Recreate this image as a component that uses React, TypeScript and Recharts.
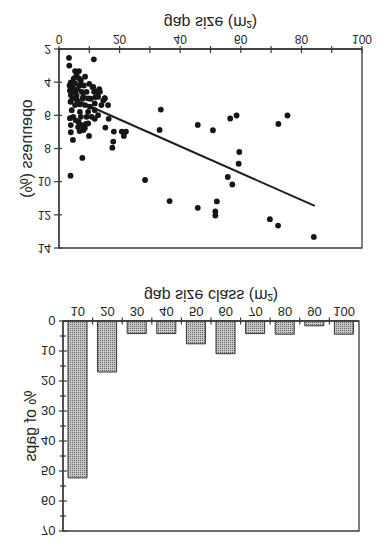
import React from 'react';
import {
  BarChart,
  Bar,
  XAxis,
  YAxis,
  ScatterChart,
  Scatter,
  ReferenceArea,
  ReferenceLine,
  Label,
} from 'recharts';

// ---------- bar chart data ----------
const gapClassLabels = ['10', '20', '30', '40', '50', '60', '70', '80', '90', '100'];
const gapClassPercent = [52.3, 17.0, 4.2, 4.2, 7.6, 10.9, 4.2, 4.4, 1.6, 4.4];
const barYTicks = [0, 5, 10, 15, 20, 25, 30, 35, 40, 45, 50, 55, 60, 65, 70];

// ---------- scatter data ----------
const gapSizes = [
  3.3, 3.4, 11.5, 5.3, 6.6, 8.6, 5.8, 4.9, 6.6, 3.9, 5.3, 6.9, 4.2, 5.5, 7.5, 9.1, 11.3, 11.6, 13.5, 3.9,
  5.8, 8.0, 9.6, 12.9, 15.1, 16.2, 14.0, 11.8, 10.2, 8.6, 6.9, 5.3, 3.8, 4.2, 6.9, 9.6, 11.8, 4.7, 7.2, 9.1,
  10.8, 12.9, 3.9, 7.5, 8.0, 9.6, 3.9, 4.6, 3.6, 3.8, 7.7, 17.9, 17.6, 18.1, 20.7, 22.1, 21.4, 16.4, 15.3, 9.9,
  11.8, 12.4, 13.3, 11.1, 14.6, 15.1, 8.5, 8.9, 4.5, 3.6, 5.0, 6.2, 4.4, 6.0, 7.8, 3.5, 7.2, 8.2, 10.0, 12.0,
  10.5, 5.5, 6.3, 6.8, 6.5,
  33.6, 33.2, 28.4, 36.5, 45.8, 50.8, 45.8, 52.1, 51.6, 51.6, 56.5, 58.6, 59.5, 59.3, 55.7, 57.2, 69.6, 72.3,
  72.4, 75.4, 84.1,
];
const opennessValues = [
  2.53, 3.0, 2.62, 3.33, 3.33, 3.67, 3.57, 3.77, 3.77, 4.01, 4.07, 4.18, 4.48, 4.54, 4.58, 4.58, 4.28, 4.58, 4.58, 4.78,
  4.82, 4.88, 4.98, 4.88, 4.98, 5.38, 5.38, 5.28, 5.48, 5.38, 5.34, 5.38, 5.18, 5.69, 5.79, 5.79, 5.69, 6.09, 6.09, 6.09,
  6.09, 5.99, 6.59, 6.59, 6.89, 6.49, 7.02, 7.48, 6.17, 9.64, 8.57, 7.58, 7.95, 6.98, 6.98, 6.98, 7.24, 6.21, 6.74, 7.24,
  6.21, 4.56, 4.42, 4.3, 5.1, 4.96, 6.78, 6.52, 4.3, 4.5, 4.6, 4.4, 5.0, 5.1, 5.0, 4.2, 3.9, 4.2, 4.1, 4.9,
  5.0, 6.3, 6.7, 6.95, 6.4,
  5.65, 6.88, 9.9, 11.17, 6.58, 6.9, 11.58, 11.19, 11.8, 12.04, 6.19, 6.01, 8.21, 8.92, 9.72, 10.17, 12.26, 12.65,
  6.52, 6.01, 13.33,
];
const regressionX = [5.3, 84.4];
const regressionY = [5.06, 11.46];
const scatterXTicks = [0, 10, 20, 30, 40, 50, 60, 70, 80, 90, 100];
const scatterYTicks = [2, 4, 6, 8, 10, 12, 14];

// ---------- derived tables ----------
const barData = gapClassLabels.map((lab, i) => ({
  mid: Number(lab) - 5,
  pct: gapClassPercent[i],
}));
const barXTicks: number[] = [];
gapClassLabels.forEach((lab, i) => {
  barXTicks.push(Number(lab) - 5);
  if (i < gapClassLabels.length - 1) barXTicks.push(Number(lab));
});
const midToLabel: Record<number, string> = {};
gapClassLabels.forEach((lab) => {
  midToLabel[Number(lab) - 5] = lab;
});
const scatterData = gapSizes.map((x, i) => ({ x, y: opennessValues[i] }));

const AX = '#3a3a3a';
const TXT = '#262626';
const FONT = '"Liberation Sans", Arial, Helvetica, sans-serif';

const BarXTick = (p: any) => {
  const v = p.payload.value;
  const lab = midToLabel[v];
  if (lab !== undefined) {
    return (
      <text x={p.x} y={p.y + 4.5} dy="0.71em" textAnchor="middle" fontSize={13} fill={TXT} fontFamily={FONT}>
        {lab}
      </text>
    );
  }
  return <line x1={p.x} x2={p.x} y1={p.y - 3.5} y2={p.y + 3.5} stroke={AX} strokeWidth={1.2} />;
};

const BarYTick = (p: any) => {
  const v = p.payload.value;
  const major = v % 10 === 0;
  return (
    <g>
      <line x1={p.x - (major ? 4 : 3)} x2={p.x + (major ? 4 : 3)} y1={p.y} y2={p.y} stroke={AX} strokeWidth={1.2} />
      {major && (
        <text x={p.x - 7.5} y={p.y} dy="0.36em" textAnchor="end" fontSize={13} fill={TXT} fontFamily={FONT}>
          {v}
        </text>
      )}
    </g>
  );
};

const ScXTick = (p: any) => {
  const v = p.payload.value;
  return (
    <g>
      <line x1={p.x} x2={p.x} y1={p.y - 4} y2={p.y + 3} stroke={AX} strokeWidth={1.2} />
      {v % 20 === 0 && (
        <text x={p.x} y={p.y + 5.5} dy="0.71em" textAnchor="middle" fontSize={12} fill={TXT} fontFamily={FONT}>
          {v}
        </text>
      )}
    </g>
  );
};

const ScYTick = (p: any) => {
  const v = p.payload.value;
  return (
    <g>
      <line x1={p.x - 5} x2={p.x + 3} y1={p.y} y2={p.y} stroke={AX} strokeWidth={1.2} />
      <text x={p.x - 8} y={p.y} dy="0.36em" textAnchor="end" fontSize={12} fill={TXT} fontFamily={FONT}>
        {v}
      </text>
    </g>
  );
};

const Dot = (p: any) => <circle cx={p.cx} cy={p.cy} r={2.9} fill="#151515" />;

export default function App() {
  return (
    <div
      style={{
        position: 'absolute',
        left: 0,
        top: 0,
        width: 390,
        height: 547,
        background: '#fff',
        transform: 'scaleY(-1)',
        fontFamily: FONT,
      }}
    >
      <div style={{ position: 'absolute', left: 0, top: 0 }}>
        <BarChart width={390} height={270} data={barData} margin={{ top: 16, right: 31, bottom: 4, left: 0 }}>
          <defs>
            <pattern id="stip" width="2" height="2" patternUnits="userSpaceOnUse">
              <rect width="2" height="2" fill="#c6c6c6" />
              <rect width="1" height="1" fill="#666666" />
            </pattern>
          </defs>
          <XAxis
            dataKey="mid"
            type="number"
            domain={[0, 100]}
            ticks={barXTicks}
            interval={0}
            height={40}
            tickSize={0}
            tickMargin={0}
            tickLine={false}
            tick={BarXTick}
            axisLine={{ stroke: AX, strokeWidth: 1.3 }}
          >
            <Label value="gap size class (m²)" position="insideBottom" offset={9} fontSize={16} fill={TXT} fontFamily={FONT} />
          </XAxis>
          <YAxis
            type="number"
            domain={[0, 70]}
            ticks={barYTicks}
            interval={0}
            width={63}
            tickSize={0}
            tickMargin={0}
            tickLine={false}
            tick={BarYTick}
            axisLine={{ stroke: AX, strokeWidth: 1.3 }}
          >
            <Label value="% of gaps" angle={-90} position="center" dx={-1.5} fontSize={16} fill={TXT} fontFamily={FONT} />
          </YAxis>
          <ReferenceArea x1={0} x2={100} y1={0} y2={70} fill="none" stroke={AX} strokeWidth={1.3} />
          <Bar dataKey="pct" fill="url(#stip)" stroke="#333" strokeWidth={1} barSize={19} isAnimationActive={false} />
        </BarChart>
      </div>
      <div style={{ position: 'absolute', left: 0, top: 270 }}>
        <ScatterChart width={390} height={277} margin={{ top: 29, right: 28, bottom: 9, left: 0 }}>
          <XAxis
            dataKey="x"
            type="number"
            domain={[0, 100]}
            ticks={scatterXTicks}
            interval={0}
            height={40}
            tickSize={0}
            tickMargin={0}
            tickLine={false}
            tick={ScXTick}
            axisLine={{ stroke: AX, strokeWidth: 1.3 }}
          >
            <Label value="gap size (m²)" position="insideBottom" offset={8} fontSize={16} fill={TXT} fontFamily={FONT} />
          </XAxis>
          <YAxis
            dataKey="y"
            type="number"
            domain={[2, 14]}
            ticks={scatterYTicks}
            interval={0}
            width={59}
            tickSize={0}
            tickMargin={0}
            tickLine={false}
            tick={ScYTick}
            axisLine={{ stroke: AX, strokeWidth: 1.3 }}
          >
            <Label value="openness (%)" angle={-90} position="center" dx={-3.5} fontSize={16} fill={TXT} fontFamily={FONT} />
          </YAxis>
          <ReferenceArea x1={0} x2={100} y1={2} y2={14} fill="none" stroke={AX} strokeWidth={1.3} />
          <ReferenceLine
            segment={[
              { x: regressionX[0], y: regressionY[0] },
              { x: regressionX[1], y: regressionY[1] },
            ]}
            stroke="#1e1e1e"
            strokeWidth={2}
          />
          <Scatter data={scatterData} shape={Dot} isAnimationActive={false} />
        </ScatterChart>
      </div>
    </div>
  );
}
